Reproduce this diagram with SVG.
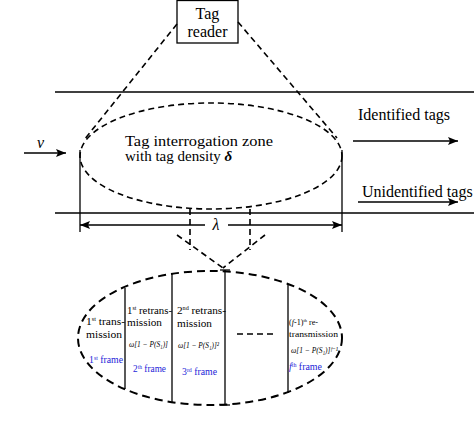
<svg xmlns="http://www.w3.org/2000/svg" width="474" height="431" viewBox="0 0 474 431" font-family="'Liberation Serif', 'DejaVu Serif', serif">
<style>
text{font-family:'Liberation Serif','DejaVu Serif',serif;fill:#000}
.big{font-size:16px}
.mid{font-size:15px}
.sm{font-size:11px}
.f{font-size:8px;font-style:italic}
.blue{fill:#2424d8;font-size:10px}
.solid{stroke:#000;stroke-width:1.3;fill:none}
.dash{stroke:#000;stroke-width:1.6;fill:none;stroke-dasharray:6 4}
.dash2{stroke:#000;stroke-width:2;fill:none;stroke-dasharray:8 5}
</style>
<defs>
<marker id="ah" viewBox="0 0 10 8" refX="10" refY="4" markerWidth="10" markerHeight="8" markerUnits="userSpaceOnUse" orient="auto">
<path d="M0,0 L10,4 L0,8 L2,4 Z" fill="#000"/>
</marker>
</defs>

<g id="reader">
<rect x="177" y="0.5" width="61" height="42.5" fill="#fff" stroke="#000" stroke-width="1.3"/>
<text class="big" x="207.5" y="19" text-anchor="middle">Tag</text>
<text class="big" x="207.5" y="37" text-anchor="middle">reader</text>
</g>

<g id="conveyor">
<line class="solid" x1="55" y1="92" x2="474" y2="92"/>
<line class="solid" x1="55" y1="213" x2="474" y2="213"/>
</g>

<g id="zone">
<ellipse class="dash" cx="211" cy="156" rx="131" ry="53"/>
<text class="mid" x="125" y="146" textLength="148" lengthAdjust="spacingAndGlyphs">Tag interrogation zone</text>
<text class="mid" x="125" y="161">with tag density <tspan font-style="italic" font-weight="bold">δ</tspan></text>
</g>

<g id="velocity">
<text class="big" x="37" y="148" font-style="italic">ν</text>
</g>

<g id="identified">
<text class="big" x="358" y="120">Identified tags</text>
</g>
<g id="unidentified">
<text class="big" x="362" y="197">Unidentified tags</text>
</g>

<g id="lambda">
<text class="big" x="216" y="230" font-style="italic" text-anchor="middle">λ</text>
</g>

<g id="frames">
<ellipse class="dash2" cx="210" cy="338" rx="132" ry="67"/>
<line class="solid" x1="125" y1="288" x2="125" y2="389"/>
<line class="solid" x1="172" y1="274" x2="172" y2="403"/>
<line class="solid" x1="225" y1="270" x2="225" y2="405"/>
<line class="solid" x1="220" y1="270" x2="230" y2="270"/>
<line class="solid" x1="220" y1="405" x2="230" y2="405"/>
<line class="solid" x1="288" y1="284" x2="288" y2="393"/>
<line class="dash" x1="237" y1="334" x2="276" y2="334"/>

<text class="sm" x="86" y="325" textLength="39" lengthAdjust="spacingAndGlyphs">1<tspan font-size="6" dy="-4">st</tspan><tspan dy="4"> trans-</tspan></text>
<text class="sm" x="86" y="338" textLength="36" lengthAdjust="spacingAndGlyphs">mission</text>
<text class="blue" x="89" y="363" textLength="34" lengthAdjust="spacingAndGlyphs">1<tspan font-size="6" dy="-3">st</tspan><tspan dy="3"> frame</tspan></text>

<text class="sm" x="127" y="314" textLength="45" lengthAdjust="spacingAndGlyphs">1<tspan font-size="6" dy="-4">st</tspan><tspan dy="4"> retrans-</tspan></text>
<text class="sm" x="127" y="326" textLength="35" lengthAdjust="spacingAndGlyphs">mission</text>
<text class="f" x="129" y="347" textLength="39" lengthAdjust="spacingAndGlyphs">ω[1 − P(S₁)]</text>
<text class="blue" x="133" y="372" textLength="33" lengthAdjust="spacingAndGlyphs">2<tspan font-size="6" dy="-3">th</tspan><tspan dy="3"> frame</tspan></text>

<text class="sm" x="177" y="314" textLength="49" lengthAdjust="spacingAndGlyphs">2<tspan font-size="6" dy="-4">nd</tspan><tspan dy="4"> retrans-</tspan></text>
<text class="sm" x="177" y="327" textLength="35" lengthAdjust="spacingAndGlyphs">mission</text>
<text class="f" x="178" y="348" textLength="41" lengthAdjust="spacingAndGlyphs">ω[1 − P(S₁)]²</text>
<text class="blue" x="182" y="375" textLength="35" lengthAdjust="spacingAndGlyphs">3<tspan font-size="6" dy="-3">rd</tspan><tspan dy="3"> frame</tspan></text>

<text x="289" y="325" font-size="9" textLength="29" lengthAdjust="spacingAndGlyphs">(<tspan font-style="italic">f</tspan>-1)<tspan font-size="5" dy="-3">th</tspan><tspan dy="3"> re-</tspan></text>
<text x="289" y="337" font-size="9" textLength="49" lengthAdjust="spacingAndGlyphs">transmission</text>
<text class="f" x="291" y="353" textLength="47" lengthAdjust="spacingAndGlyphs">ω[1 − P(S₁)]ᶠ⁻¹</text>
<text class="blue" x="289" y="370" textLength="33" lengthAdjust="spacingAndGlyphs"><tspan font-style="italic">f</tspan><tspan font-size="6" dy="-3">th</tspan><tspan dy="3"> frame</tspan></text>
</g>

<g id="connectors">
<line class="dash" x1="177" y1="24" x2="84" y2="140"/>
<line class="dash" x1="238" y1="22" x2="337" y2="138"/>
<line class="solid" x1="24" y1="153" x2="66" y2="153" marker-end="url(#ah)"/>
<line class="solid" x1="353" y1="141" x2="458" y2="141" marker-end="url(#ah)"/>
<line class="solid" x1="358" y1="202" x2="458" y2="202" marker-end="url(#ah)"/>
<line class="solid" x1="80" y1="150" x2="80" y2="232"/>
<line class="solid" x1="342" y1="150" x2="342" y2="232"/>
<line class="solid" x1="205" y1="225" x2="80" y2="225" marker-end="url(#ah)"/>
<line class="solid" x1="228" y1="225" x2="342" y2="225" marker-end="url(#ah)"/>
<line class="dash" x1="190" y1="209" x2="190" y2="250"/>
<line class="dash" x1="250" y1="209" x2="250" y2="250"/>
<line class="dash" x1="177" y1="235" x2="223" y2="268"/>
<line class="dash" x1="265" y1="235" x2="223" y2="268"/>
</g>
</svg>
